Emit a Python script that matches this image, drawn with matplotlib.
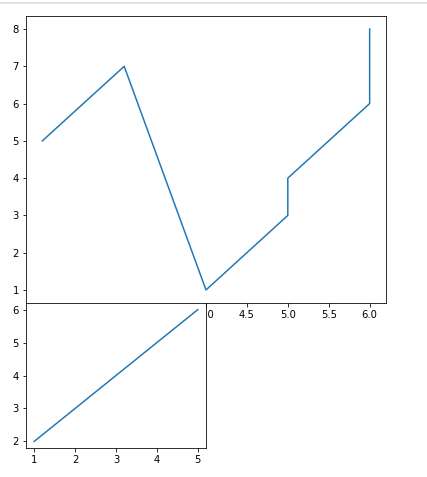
import matplotlib
matplotlib.use("Agg")
import matplotlib.pyplot as plt
from matplotlib.lines import Line2D

# Data
main_x = [2, 3, 4, 5, 5, 6, 6]
main_y = [5, 7, 1, 3, 4, 6, 8]
inset_x = [1, 2, 3, 4, 5]
inset_y = [2, 3, 4, 5, 6]

W, H = 427, 477
fig = plt.figure(figsize=(W / 72, H / 72), dpi=72)

def rect(l, t, r, b):
    return [l / W, 1 - b / H, (r - l) / W, (b - t) / H]

ax1 = fig.add_axes(rect(26, 16, 386, 303))
ax1.plot(main_x, main_y, color="#1f77b4", lw=1.5)

ax2 = fig.add_axes(rect(26, 303, 206, 448))
ax2.plot(inset_x, inset_y, color="#1f77b4", lw=1.5)
ax2.set_facecolor("white")

for ax in (ax1, ax2):
    ax.tick_params(labelsize=10, length=3.5)

# light gray separator line at the top (screenshot border)
fig.add_artist(Line2D([0, 1], [1 - 3 / H, 1 - 3 / H], color="#d8d8d8", lw=1.5,
                      transform=fig.transFigure))

fig.savefig("out.png", dpi=72)
